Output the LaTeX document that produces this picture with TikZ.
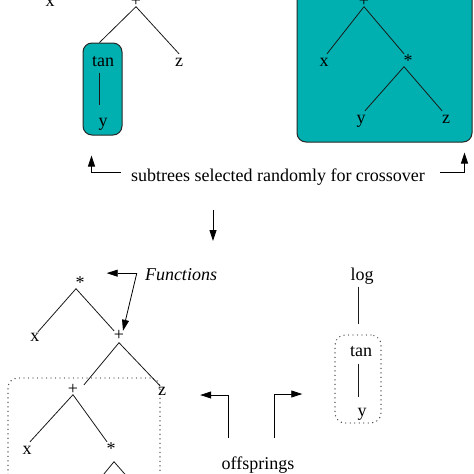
\documentclass[tikz,border=0pt]{standalone}
\usepackage{fontspec}
\setmainfont{Liberation Serif}
\usetikzlibrary{arrows.meta}
\definecolor{selteal}{RGB}{0,176,176}
\tikzset{
    tnode/.style = {inner sep=0pt, anchor=base, text height=1.2em, text depth=0.05em},
    snode/.style = {tnode, text height=0.9em},
    selbox/.style = {rectangle, rounded corners=9pt, draw=black!85, line width=1pt, fill=selteal, inner sep=0pt},
    offbox/.style = {rectangle, rounded corners=10pt, draw=black!75, line width=1.4pt, line cap=round, dash pattern=on 0pt off 4.5pt, inner sep=0pt},
    branch/.style = {draw=black!90, line width=0.8pt},
    arr/.style = {draw=black, line width=0.8pt, -{Triangle[length=11pt,width=7pt]}},
    label/.style = {inner sep=0pt, anchor=base}
}
\begin{document}
\begin{tikzpicture}[x=1pt, y=-1pt, font=\fontsize{18}{21}\selectfont]
    \useasboundingbox (0,0) rectangle (474,474);
    \clip (0,0) rectangle (474,474);

    % Selected subtrees
    \node [selbox, minimum width=39pt, minimum height=92pt] (box1) at (102.5,89) {};
    \node [selbox, minimum width=175pt, minimum height=172pt] (box2) at (384.5,56) {};

    % Parent 1
    \node [tnode] (x1) at (50,6) {x};
    \node [tnode] (p1) at (136,6) {+};
    \node [tnode] (tan1) at (103,66) {tan};
    \node [tnode] (z1) at (179,66) {z};
    \node [tnode] (y1) at (103,126) {y};
    \draw [branch] (p1.south) -- ([xshift=-3pt]box1.north);
    \draw [branch] (p1.south) -- (z1.north);
    \draw [branch, shorten <=6pt, shorten >=9pt] ([xshift=-4pt]tan1.south) -- ([xshift=-4pt]y1.north);

    % Parent 2
    \node [tnode] (p2) at (364,6) {+};
    \node [tnode] (x2) at (324,66) {x};
    \node [tnode] (m2) at (408,66) {*};
    \node [tnode] (y2) at (361,123) {y};
    \node [tnode] (z2) at (446,123) {z};
    \draw [branch] (p2.south) -- ([xshift=3pt]x2.north);
    \draw [branch] (p2.south) -- ([xshift=-4pt]m2.north);
    \draw [branch] ([xshift=-4pt]m2.south) -- ([xshift=4pt]y2.north);
    \draw [branch] ([xshift=-4pt]m2.south) -- ([xshift=-4pt]z2.north);

    % Crossover
    \node [label] (sub) at (278,181) {subtrees selected randomly for crossover};
    \draw [arr, shorten >=20pt] ([xshift=-10pt,yshift=4pt]sub.west) -| ([xshift=9pt]box1.south west);
    \draw [arr, shorten >=10pt] ([xshift=15pt,yshift=4pt]sub.east) -| ([xshift=-8pt]box2.south east);
    \coordinate (d1) at (213,210);
    \coordinate (d2) at (213,241);
    \draw [arr] (d1) -- (d2);

    % Offspring 1
    \node [offbox, minimum width=152pt, minimum height=124pt] (box3) at (84,440) {};
    \node [tnode] (m3) at (80,288) {*};
    \node [snode] (x3) at (35,341) {x};
    \node [snode] (p3) at (119,340) {+};
    \node [snode] (q3) at (73,394) {+};
    \node [snode] (z3) at (162,395) {z};
    \node [tnode] (x4) at (27,454) {x};
    \node [tnode] (m4) at (111,454) {*};
    \coordinate (l4) at (99,480);
    \coordinate (r4) at (130,480);
    \draw [branch] ([xshift=-4pt]m3.south) -- ([xshift=3pt]x3.north);
    \draw [branch] ([xshift=-4pt]m3.south) -- ([xshift=-5pt]p3.north);
    \draw [branch] ([yshift=-2pt]p3.south) -- ([xshift=11pt]q3.north);
    \draw [branch] ([yshift=-2pt]p3.south) -- ([xshift=-2pt]z3.north);
    \draw [branch] (q3.south) -- ([xshift=3pt]x4.north);
    \draw [branch] (q3.south) -- ([xshift=-4pt]m4.north);
    \draw [branch] ([xshift=3pt,yshift=-7pt]m4.south) -- (l4);
    \draw [branch] ([xshift=3pt,yshift=-7pt]m4.south) -- (r4);

    % Functions
    \node [label, font=\fontsize{18}{21}\selectfont\itshape] (func) at (181,280) {Functions};
    \coordinate (fj) at ([xshift=-8pt,yshift=1pt]func.west);
    \draw [arr, shorten >=22pt] (fj) -- (fj -| m3.east);
    \draw [arr] (fj) -- ([xshift=4pt]p3.north);

    % Offspring 2
    \node [offbox, minimum width=46pt, minimum height=88pt] (box4) at (358,379) {};
    \node [tnode] (log) at (362,280) {log};
    \node [tnode] (tan2) at (361,356) {tan};
    \node [tnode] (y3) at (362,416) {y};
    \draw [branch, shorten <=6pt, shorten >=10pt] (log.south -| box4.north) -- (box4.north);
    \draw [branch, shorten <=7pt, shorten >=7pt] (tan2.south -| box4.north) -- (y3.north -| box4.north);

    % Offsprings
    \node [label] (off) at (258,469) {offsprings};
    \draw [arr, shorten >=34pt] ([xshift=-30pt,yshift=18pt]off.north) |- (z3.base east);
    \draw [arr, shorten >=32pt] ([xshift=16pt,yshift=18pt]off.north) |- ([yshift=-15pt]box4.west);
\end{tikzpicture}
\end{document}
